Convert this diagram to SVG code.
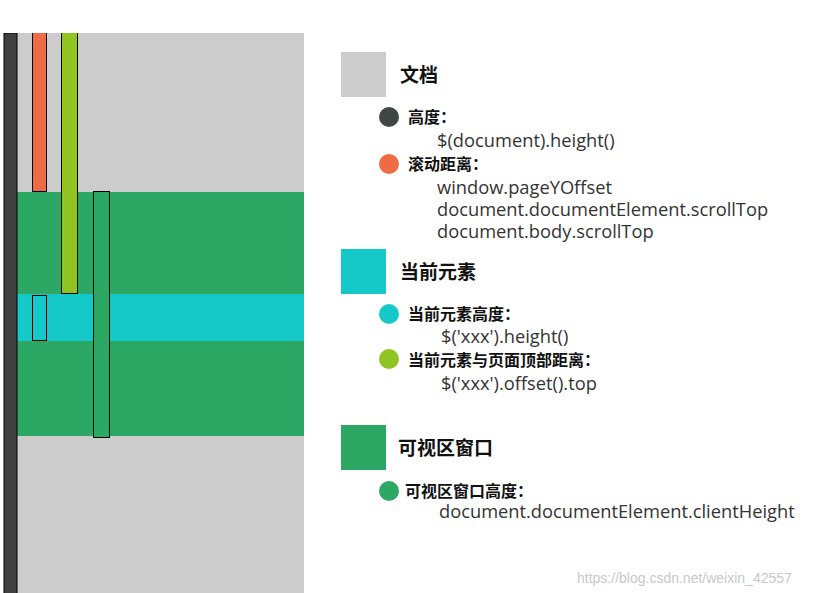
<svg xmlns="http://www.w3.org/2000/svg" width="816" height="593" viewBox="0 0 816 593">
<style>
.h{font-family:"Noto Sans CJK SC",sans-serif;font-weight:bold;font-size:19px;fill:#111}
.s{font-family:"Noto Sans CJK SC",sans-serif;font-weight:bold;font-size:16px;fill:#111}
.c{font-family:"Open Sans","Noto Sans",sans-serif;font-size:18.3px;fill:#333}
.b{stroke:#000;stroke-width:1}
</style>
<rect width="816" height="593" fill="#fff"/>
<g id="document"><rect x="17" y="33" width="287" height="560" fill="#cccccc"/></g>
<g id="viewport"><rect x="17" y="192" width="287" height="244" fill="#2ca864"/></g>
<g id="element"><rect x="17" y="294" width="287" height="47" fill="#16c9c9"/></g>
<g id="bars">
<rect x="4" y="33" width="13" height="562" fill="#404040" class="b"/>
<rect x="32.5" y="31" width="14" height="160.5" fill="#ee6b45" class="b"/>
<rect x="61.5" y="31" width="16" height="262.5" fill="#8fc422" class="b"/>
<rect x="32.5" y="295.5" width="14" height="45" fill="#16c9c9" class="b"/>
<rect x="93.5" y="191.5" width="16" height="246" fill="#2ca864" class="b"/>
<rect x="0" y="0" width="816" height="33" fill="#fff"/>
</g>
<g id="legend-doc">
<rect x="341" y="52" width="45" height="45" fill="#cccccc"/>
<text x="400" y="82" class="h">文档</text>
<circle cx="389" cy="117" r="10" fill="#404545"/>
<text x="408" y="123" class="s">高度：</text>
<text x="437" y="147" class="c">$(document).height()</text>
<circle cx="389" cy="164" r="10" fill="#ee6b45"/>
<text x="408" y="170" class="s">滚动距离：</text>
<text x="437" y="194" class="c">window.pageYOffset</text>
<text x="437" y="216" class="c">document.documentElement.scrollTop</text>
<text x="437" y="238" class="c">document.body.scrollTop</text>
</g>
<g id="legend-el">
<rect x="341" y="249" width="45" height="45" fill="#16c9c9"/>
<text x="400" y="279" class="h">当前元素</text>
<circle cx="389" cy="314" r="10" fill="#16c9c9"/>
<text x="408" y="320" class="s">当前元素高度：</text>
<text x="441" y="343" class="c">$('xxx').height()</text>
<circle cx="389" cy="359" r="10" fill="#8fc422"/>
<text x="408" y="366" class="s">当前元素与页面顶部距离：</text>
<text x="441" y="390" class="c">$('xxx').offset().top</text>
</g>
<g id="legend-vp">
<rect x="341" y="425" width="45" height="45" fill="#2ca864"/>
<text x="398" y="455" class="h">可视区窗口</text>
<circle cx="389" cy="491" r="10" fill="#2ca864"/>
<text x="405" y="497" class="s">可视区窗口高度：</text>
<text x="439" y="518" class="c">document.documentElement.clientHeight</text>
</g>
<g id="connectors"/>
<text x="577" y="583" font-family="Liberation Sans,sans-serif" font-size="14" fill="#c8c8c8">https://blog.csdn.net/weixin_42557</text>
</svg>
